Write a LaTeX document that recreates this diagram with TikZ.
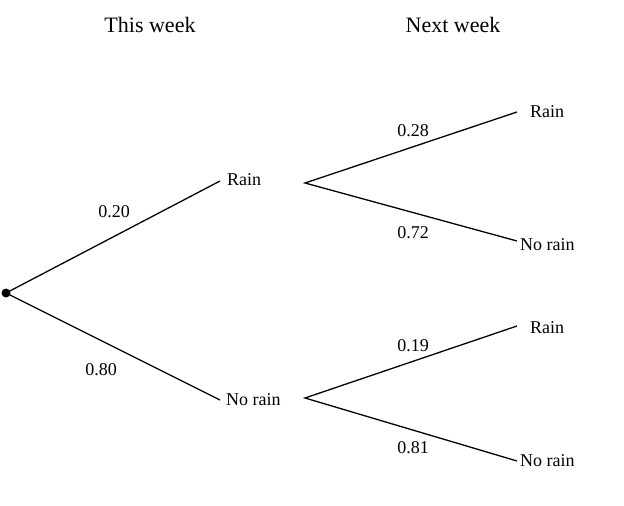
\documentclass[tikz,border=0pt]{standalone}
\usepackage{fontspec}
\setmainfont{Liberation Serif}
\begin{document}
\begin{tikzpicture}[x=1pt,y=-1pt,
  lab/.style={font=\fontsize{18}{20}\selectfont,inner sep=0pt},
  head/.style={font=\fontsize{22}{24}\selectfont,inner sep=0pt},
  br/.style={line width=1.3pt}]
\useasboundingbox (0,0) rectangle (624,506);
\node[head] (h1) at (150,25) {This week};
\node[head] (h2) at (453,25) {Next week};
\fill (6,293) circle (4.5);
\coordinate (root) at (6,293);
\coordinate (r1) at (220,181);
\coordinate (n1) at (220,400);
\node[lab,anchor=west] (R1) at (227,180) {Rain};
\node[lab,anchor=west] (N1) at (226,400) {No rain};
\coordinate (r1s) at (305,183);
\coordinate (n1s) at (305,398);
\coordinate (rr) at (517,112);
\coordinate (rn) at (517,241);
\coordinate (nr) at (517,326);
\coordinate (nn) at (517,461);
\node[lab,anchor=west] (RR) at (530,112) {Rain};
\node[lab,anchor=west] (RN) at (520,245) {No rain};
\node[lab,anchor=west] (NR) at (530,328) {Rain};
\node[lab,anchor=west] (NN) at (520,461) {No rain};
\draw[br] (root) -- (r1);
\draw[br] (root) -- (n1);
\draw[br] (rr) -- (r1s) -- (rn);
\draw[br] (nr) -- (n1s) -- (nn);
\node[lab] (p1) at (114,212) {0.20};
\node[lab] (p2) at (101,370) {0.80};
\node[lab] (p3) at (413,131) {0.28};
\node[lab] (p4) at (413,233) {0.72};
\node[lab] (p5) at (413,346) {0.19};
\node[lab] (p6) at (413,448) {0.81};
\end{tikzpicture}
\end{document}
